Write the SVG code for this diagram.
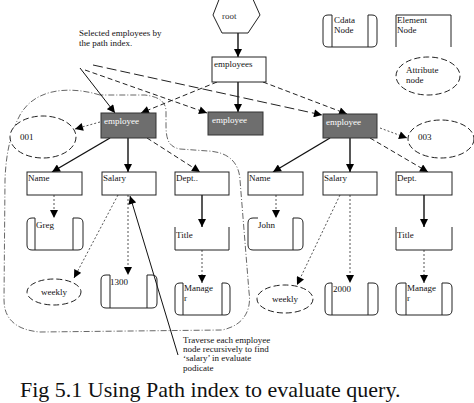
<svg xmlns="http://www.w3.org/2000/svg" width="474" height="403" viewBox="0 0 474 403">
<style>
text{font-family:"Liberation Serif","Times New Roman",serif;font-size:9px;fill:#111}
.wt{fill:#fff}
.box{fill:#fff;stroke:#222;stroke-width:1}
.gbox{fill:#6e6e6e;stroke:#333;stroke-width:1}
.open{fill:none;stroke:#222;stroke-width:1}
.ell{fill:#fff;stroke:#222;stroke-width:1;stroke-dasharray:6,3}
.sol{fill:none;stroke:#111;stroke-width:1.4}
.thin{fill:none;stroke:#111;stroke-width:1}
.dsh{fill:none;stroke:#222;stroke-width:1;stroke-dasharray:5,3}
.ldsh{fill:none;stroke:#222;stroke-width:1;stroke-dasharray:10,4}
.dot{fill:none;stroke:#555;stroke-width:1;stroke-dasharray:2,2}
.loop{fill:none;stroke:#555;stroke-width:0.9;stroke-dasharray:6,2,1,2}
</style>
<defs>
<marker id="ah" viewBox="0 0 10 10" refX="10" refY="5" markerWidth="9" markerHeight="8" markerUnits="userSpaceOnUse" orient="auto">
<path d="M0,0 L10,5 L0,10 Z" fill="#000"/>
</marker>
</defs>

<g id="region">
<path class="loop" d="M100,95 C70,86 35,88 20,115 C12,130 6,150 5,180 L4,300 C4,318 15,330 40,332 L222,330 C242,326 252,312 249,292 L240,180 C239,162 228,152 208,151 L180,149 C168,147 166,138 166,125 L166,112 C166,102 160,97 145,95 Z"/>
</g>

<g id="connectors">
<line class="sol" x1="238" y1="33" x2="238" y2="57" marker-end="url(#ah)"/>
<line class="sol" x1="238" y1="82" x2="238" y2="112" marker-end="url(#ah)"/>
<line class="dsh" x1="217" y1="82" x2="141" y2="113" marker-end="url(#ah)"/>
<line class="dsh" x1="263" y1="82" x2="347" y2="114" marker-end="url(#ah)"/>
<line class="thin" x1="80" y1="68" x2="115" y2="113" marker-end="url(#ah)"/>
<line class="dsh" x1="85" y1="70" x2="207" y2="113" marker-end="url(#ah)"/>
<line class="ldsh" x1="93" y1="65" x2="322" y2="115" marker-end="url(#ah)"/>
<line class="dot" x1="100" y1="122" x2="75" y2="129" marker-end="url(#ah)"/>
<line class="dot" x1="380" y1="128" x2="407" y2="138" marker-end="url(#ah)"/>
<!-- left subtree -->
<line class="sol" x1="110" y1="138" x2="52" y2="172" marker-end="url(#ah)"/>
<line class="sol" x1="128" y1="138" x2="128" y2="172" marker-end="url(#ah)"/>
<line class="dsh" x1="147" y1="138" x2="200" y2="172" marker-end="url(#ah)"/>
<line class="dot" x1="54" y1="195" x2="54" y2="218" marker-end="url(#ah)"/>
<line class="dot" x1="118" y1="195" x2="74" y2="278" marker-end="url(#ah)"/>
<line class="dot" x1="128" y1="195" x2="128" y2="275" marker-end="url(#ah)"/>
<line class="sol" x1="202" y1="195" x2="202" y2="227" marker-end="url(#ah)"/>
<line class="dot" x1="202" y1="250" x2="202" y2="283" marker-end="url(#ah)"/>
<line class="thin" x1="178" y1="355" x2="130" y2="196" marker-end="url(#ah)"/>
<!-- right subtree -->
<line class="sol" x1="330" y1="138" x2="273" y2="172" marker-end="url(#ah)"/>
<line class="sol" x1="350" y1="138" x2="350" y2="172" marker-end="url(#ah)"/>
<line class="dsh" x1="370" y1="138" x2="428" y2="172" marker-end="url(#ah)"/>
<line class="dot" x1="276" y1="195" x2="276" y2="218" marker-end="url(#ah)"/>
<line class="dot" x1="340" y1="195" x2="297" y2="285" marker-end="url(#ah)"/>
<line class="dot" x1="350" y1="195" x2="350" y2="283" marker-end="url(#ah)"/>
<line class="sol" x1="424" y1="195" x2="424" y2="227" marker-end="url(#ah)"/>
<line class="dot" x1="424" y1="250" x2="424" y2="283" marker-end="url(#ah)"/>
</g>

<g id="root">
<polygon class="open" points="220,-3 252,-3 260,15 248,33 222,33 213,15"/>
<text x="222" y="19" style="fill:#333">root</text>
</g>

<g id="legend-cdata">
<path class="open" d="M332,15 H328 Q323,15 323,20 V42 Q323,47 328,47 H372 Q377,47 377,42 V20 Q377,15 372,15 H368"/>
<line class="open" x1="332" y1="15" x2="332" y2="47"/>
<line class="open" x1="368" y1="15" x2="368" y2="47"/>
<text x="334" y="23">Cdata</text>
<text x="334" y="33">Node</text>
</g>
<g id="legend-element">
<path class="open" d="M396,47 V15 H451 V47"/>
<text x="397" y="23">Element</text>
<text x="397" y="33">Node</text>
</g>
<g id="legend-attribute">
<ellipse class="ell" cx="428" cy="76" rx="32" ry="19"/>
<text x="406" y="73">Attribute</text>
<text x="406" y="83">node</text>
</g>

<g id="text-selected">
<text x="79" y="36">Selected employees by</text>
<text x="79" y="46">the path index.</text>
</g>

<g id="employees">
<rect class="box" x="212" y="57" width="54" height="25"/>
<text x="214" y="67">employees</text>
</g>

<g id="employee-left">
<rect class="gbox" x="101" y="113" width="55" height="25"/>
<text class="wt" x="104" y="124">employee</text>
</g>
<g id="employee-mid">
<rect class="gbox" x="208" y="112" width="55" height="23"/>
<text class="wt" x="212" y="123">employee</text>
</g>
<g id="employee-right">
<rect class="gbox" x="323" y="114" width="54" height="24"/>
<text class="wt" x="326" y="125">employee</text>
</g>

<g id="attr-001">
<ellipse class="ell" cx="43" cy="137" rx="33" ry="21"/>
<text x="20" y="140">001</text>
</g>
<g id="attr-003">
<ellipse class="ell" cx="441" cy="139" rx="33" ry="19"/>
<text x="418" y="140">003</text>
</g>

<g id="name-left"><rect class="box" x="27" y="172" width="55" height="23"/><text x="28" y="181">Name</text></g>
<g id="salary-left"><rect class="box" x="102" y="172" width="54" height="23"/><text x="103" y="181">Salary</text></g>
<g id="dept-left"><rect class="box" x="175" y="172" width="54" height="23"/><text x="176" y="181">Dept..</text></g>

<g id="greg">
<path class="open" d="M35,218 H32 Q27,218 27,223 V245 Q27,250 32,250 H78 Q83,250 83,245 V223 Q83,218 78,218 H73"/>
<line class="open" x1="35" y1="218" x2="35" y2="250"/>
<line class="open" x1="73" y1="218" x2="73" y2="250"/>
<text x="36" y="228">Greg</text>
</g>
<g id="title-left">
<path class="open" d="M175,227 V250 H229 V227"/>
<text x="176" y="238">Title</text>
</g>
<g id="weekly-left">
<ellipse class="ell" cx="54" cy="292" rx="27" ry="13"/>
<text x="54" y="295" text-anchor="middle">weekly</text>
</g>
<g id="v1300">
<path class="open" d="M110,275 H106 Q101,275 101,280 V303 Q101,308 106,308 H152 Q157,308 157,303 V280 Q157,275 152,275 H147"/>
<line class="open" x1="110" y1="275" x2="110" y2="308"/>
<line class="open" x1="147" y1="275" x2="147" y2="308"/>
<text x="110" y="285">1300</text>
</g>
<g id="manager-left">
<path class="open" d="M183,283 H180 Q175,283 175,288 V310 Q175,315 180,315 H225 Q230,315 230,310 V288 Q230,283 225,283 H222"/>
<line class="open" x1="183" y1="283" x2="183" y2="315"/>
<line class="open" x1="222" y1="283" x2="222" y2="315"/>
<text x="184" y="291">Manage</text>
<text x="184" y="301">r</text>
</g>

<g id="name-right"><rect class="box" x="248" y="172" width="55" height="23"/><text x="249" y="181">Name</text></g>
<g id="salary-right"><rect class="box" x="323" y="172" width="54" height="23"/><text x="324" y="181">Salary</text></g>
<g id="dept-right"><rect class="box" x="396" y="172" width="56" height="23"/><text x="397" y="181">Dept.</text></g>

<g id="john">
<path class="open" d="M258,218 H253 Q248,218 248,223 V245 Q248,250 253,250 H298 Q303,250 303,245 V223 Q303,218 298,218 H293"/>
<line class="open" x1="293" y1="218" x2="293" y2="250"/>
<text x="258" y="228">John</text>
</g>
<g id="title-right">
<path class="open" d="M396,227 V250 H452 V227"/>
<text x="397" y="238">Title</text>
</g>
<g id="weekly-right">
<ellipse class="ell" cx="285" cy="299" rx="28" ry="14"/>
<text x="285" y="302" text-anchor="middle">weekly</text>
</g>
<g id="v2000">
<path class="open" d="M332,283 H330 Q325,283 325,288 V310 Q325,315 330,315 H373 Q378,315 378,310 V288 Q378,283 373,283 H368"/>
<line class="open" x1="332" y1="283" x2="332" y2="315"/>
<line class="open" x1="368" y1="283" x2="368" y2="315"/>
<text x="333" y="292">2000</text>
</g>
<g id="manager-right">
<path class="open" d="M406,283 H401 Q396,283 396,288 V310 Q396,315 401,315 H447 Q452,315 452,310 V288 Q452,283 447,283 H442"/>
<line class="open" x1="406" y1="283" x2="406" y2="315"/>
<line class="open" x1="442" y1="283" x2="442" y2="315"/>
<text x="407" y="291">Manage</text>
<text x="407" y="301">r</text>
</g>

<g id="text-traverse">
<text x="183" y="343">Traverse each employee</text>
<text x="183" y="352">node recursively to find</text>
<text x="183" y="361">‘salary’ in evaluate</text>
<text x="183" y="371">podicate</text>
</g>

<g id="caption">
<text x="20" y="397" style="font-size:22px">Fig 5.1 Using Path index to evaluate query.</text>
</g>
</svg>
